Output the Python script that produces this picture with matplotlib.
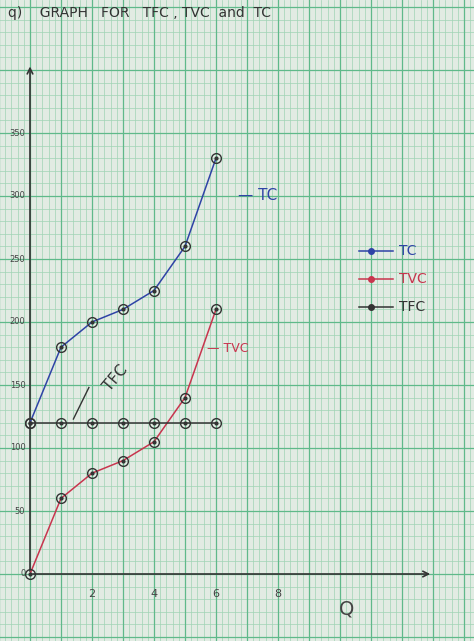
import matplotlib
matplotlib.use("Agg")
import matplotlib.pyplot as plt
import numpy as np

Q = [0, 1, 2, 3, 4, 5, 6]
TFC = [120, 120, 120, 120, 120, 120, 120]
TVC = [0, 60, 80, 90, 105, 140, 210]
TC = [120, 180, 200, 210, 225, 260, 330]
yticks = [0, 50, 100, 150, 200, 250, 300, 350]
xticks = [2, 4, 6, 8]

W, H = 474, 641
fig = plt.figure(figsize=(W/100, H/100), dpi=100)
ax = fig.add_axes([0, 0, 1, 1])
px_x, px_y = 31.0, 1.26
x0, y0 = 30, 574
ax.set_xlim(-x0/px_x, (W-x0)/px_x)
ax.set_ylim(-(H-y0)/px_y, y0/px_y)
ax.set_facecolor("#e2ebe3")
fig.patch.set_facecolor("#e2ebe3")
for s in ax.spines.values():
    s.set_visible(False)
ax.set_xticks([]); ax.set_yticks([])

# graph paper
xl, yl = ax.get_xlim(), ax.get_ylim()
for v in np.arange(-1, 15, 0.2):
    ax.axvline(v, color="#9fd3b4", lw=0.5, zorder=0)
for v in np.arange(-60, 460, 10):
    ax.axhline(v, color="#9fd3b4", lw=0.5, zorder=0)
for v in np.arange(-1, 15, 1):
    ax.axvline(v, color="#5fb98a", lw=0.9, zorder=0)
for v in np.arange(-50, 460, 50):
    ax.axhline(v, color="#5fb98a", lw=0.9, zorder=0)

# axes
ax.annotate("", xy=(13.0, 0), xytext=(0, 0),
            arrowprops=dict(arrowstyle="->", color="#333", lw=1.2))
ax.annotate("", xy=(0, 405), xytext=(0, 0),
            arrowprops=dict(arrowstyle="->", color="#333", lw=1.2))
for t in yticks:
    ax.text(-0.15, t, str(t), ha="right", va="center", fontsize=6, color="#444")
for t in xticks:
    ax.text(t, -12, str(t), ha="center", va="top", fontsize=8, color="#444")
ax.text(10.2, -20, "Q", fontsize=14, color="#444", ha="center", va="top")

def line(y, c):
    ax.plot(Q, y, color=c, lw=1.1, zorder=3)
    ax.plot(Q, y, 'o', mfc="none", mec="#333", ms=7, mew=1, zorder=4)
    ax.plot(Q, y, '.', color="#333", ms=4, zorder=5)

line(TC, "#2f43a6")
line(TVC, "#c8354e")
line(TFC, "#333333")

ax.text(6.7, 297, "— TC", color="#2f43a6", fontsize=11)
ax.text(5.7, 176, "— TVC", color="#c8354e", fontsize=9)
ax.text(2.3, 145, "TFC", color="#333", fontsize=11, rotation=50)
ax.plot([1.4, 1.9], [123, 148], color="#333", lw=1)

# legend
for i, (lab, c) in enumerate([("TC", "#2f43a6"), ("TVC", "#c8354e"), ("TFC", "#333")]):
    yy = 256 - i*22
    ax.plot([10.6, 11.7], [yy, yy], color=c, lw=1.1)
    ax.plot([11.0], [yy], 'o', color=c, ms=4)
    ax.text(11.9, yy, lab, color=c, fontsize=10, va="center")

ax.text(-0.7, 445, "q)    GRAPH   FOR   TFC , TVC  and  TC", fontsize=10,
        color="#333", va="center")
fig.savefig("out.png", dpi=100)
